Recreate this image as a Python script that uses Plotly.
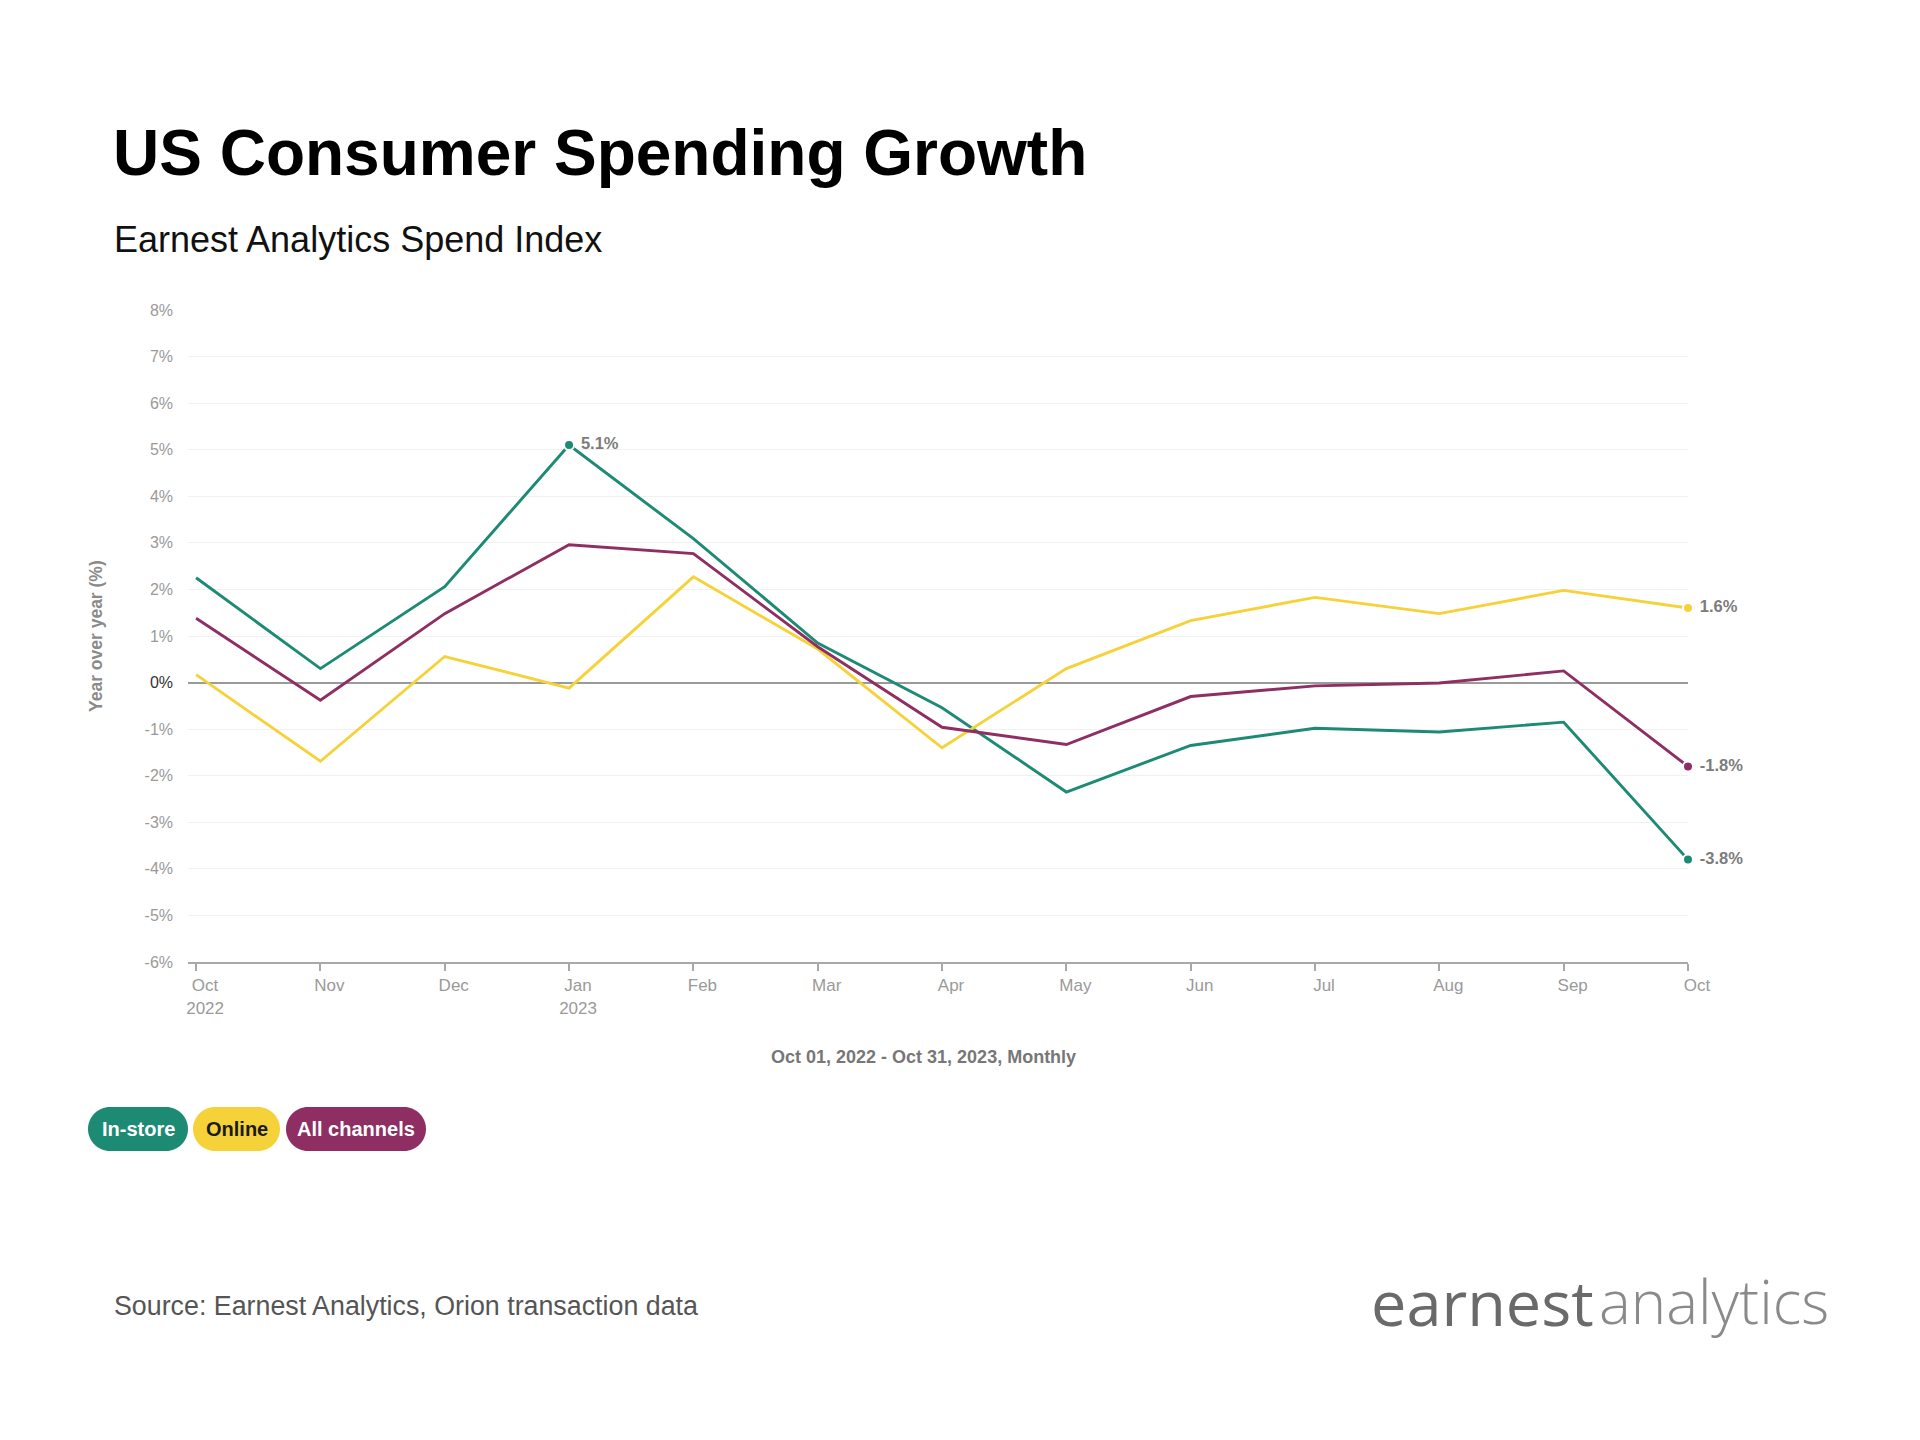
import plotly.graph_objects as go

# ---------------- data ----------------
months = ["2022-10", "2022-11", "2022-12", "2023-01", "2023-02", "2023-03", "2023-04",
          "2023-05", "2023-06", "2023-07", "2023-08", "2023-09", "2023-10"]
month_labels = ["Oct<br>2022", "Nov", "Dec", "Jan<br>2023", "Feb", "Mar", "Apr",
                "May", "Jun", "Jul", "Aug", "Sep", "Oct"]
in_store = [2.25, 0.3, 2.06, 5.1, 3.09, 0.85, -0.54, -2.35, -1.35, -0.98, -1.06, -0.85, -3.8]
online = [0.17, -1.69, 0.56, -0.12, 2.27, 0.72, -1.4, 0.3, 1.33, 1.83, 1.48, 1.98, 1.6]
all_channels = [1.38, -0.38, 1.48, 2.96, 2.77, 0.77, -0.96, -1.33, -0.3, -0.07, -0.01, 0.25, -1.8]
series_names = ["In-store", "Online", "All channels"]
y_ticks = list(range(-6, 9))
y_tick_labels = [("<span style='color:#333'>%d%%</span>" % v) if v == 0 else ("%d%%" % v) for v in y_ticks]
# points that carry a value label: (series index, month index)
labelled_points = [(0, 3), (0, 12), (1, 12), (2, 12)]

# ---------------- style ----------------
W, H = 1920, 1440
ML, MR, MT, MB = 188, 232, 310, 478
colors = ["#1d8a74", "#f6d23a", "#8e2e62"]
pill_text_colors = ["#ffffff", "#1a1a1a", "#ffffff"]
FONT = "Liberation Sans, Arial, Helvetica, sans-serif"

PW = W - ML - MR
PH = H - MT - MB


def px_x(px):
    return (px - ML) / PW


def px_y(py):
    return (H - MB - py) / PH


fig = go.Figure()
series = [in_store, online, all_channels]
for name, vals, col in zip(series_names, series, colors):
    fig.add_trace(go.Scatter(x=months, y=vals, mode="lines", name=name,
                             line=dict(color=col, width=2.9), showlegend=False,
                             hoverinfo="x+y"))

for si, mi in labelled_points:
    v = series[si][mi]
    fig.add_trace(go.Scatter(
        x=[months[mi]], y=[v], mode="markers+text",
        marker=dict(color=colors[si], size=10, line=dict(color="white", width=2)),
        text=[" %.1f%%" % v], textposition="middle right",
        textfont=dict(family=FONT, size=16.5, color="#7c7c7c", weight="bold"),
        cliponaxis=False, showlegend=False))

fig.update_xaxes(
    type="category", range=[-0.065, 12], tickmode="array", tickvals=months, ticktext=month_labels,
    showgrid=False, showline=True, linecolor="#a8a8a8", linewidth=2,
    ticks="outside", ticklen=7, tickcolor="#a8a8a8", tickwidth=1.5,
    tickfont=dict(family=FONT, size=17, color="#9a9a9a"), ticklabelshift=9,
    zeroline=False)
fig.update_yaxes(
    range=[-6, 8], tickmode="array", tickvals=y_ticks, ticktext=y_tick_labels,
    showgrid=True, gridcolor="#f1f1f1", gridwidth=1,
    zeroline=True, zerolinecolor="#9a9a9a", zerolinewidth=1.5,
    tickfont=dict(family=FONT, size=16, color="#9a9a9a"), ticklabelstandoff=14,
    showline=False)

annotations = [
    dict(text="<b>US Consumer Spending Growth</b>", x=px_x(111), y=px_y(153), xanchor="left", yanchor="middle",
         font=dict(family=FONT, size=64, color="#000000")),
    dict(text="Earnest Analytics Spend Index", x=px_x(112), y=px_y(239), xanchor="left", yanchor="middle",
         font=dict(family=FONT, size=36, color="#111111")),
    dict(text="Year over year (%)", x=px_x(96), y=px_y(636), xanchor="center", yanchor="middle", textangle=-90,
         font=dict(family=FONT, size=17.5, color="#8a8a8a", weight="bold")),
    dict(text="Oct 01, 2022 - Oct 31, 2023, Monthly", x=px_x(923), y=px_y(1057), xanchor="center", yanchor="middle",
         font=dict(family=FONT, size=18, color="#777777", weight="bold")),
    dict(text="Source: Earnest Analytics, Orion transaction data", x=px_x(112), y=px_y(1306), xanchor="left",
         yanchor="middle", font=dict(family=FONT, size=26.8, color="#555555")),
    dict(text="earnest", x=px_x(1596), y=px_y(1301), xanchor="right", yanchor="middle",
         font=dict(family="Open Sans, Lato, sans-serif", size=63, color="#6a6a6a", weight=500)),
    dict(text="analytics", x=px_x(1597), y=px_y(1301), xanchor="left", yanchor="middle",
         font=dict(family="Open Sans, Lato, sans-serif", size=60, color="#8a8a8a", weight=300)),
]

# legend pills
pills = [(88, 188), (193, 280), (286, 426)]
py0, py1 = 1107, 1151
shapes = []
k = 0.5523


def P(x, y):
    return "%.5f,%.5f" % (px_x(x), px_y(y))


for (x0, x1), name, col, tcol in zip(pills, series_names, colors, pill_text_colors):
    r = (py1 - py0) / 2
    yc = (py0 + py1) / 2
    path = ("M " + P(x0 + r, py0) + " L " + P(x1 - r, py0) +
            " C " + P(x1 - r + k * r, py0) + " " + P(x1, yc - k * r) + " " + P(x1, yc) +
            " C " + P(x1, yc + k * r) + " " + P(x1 - r + k * r, py1) + " " + P(x1 - r, py1) +
            " L " + P(x0 + r, py1) +
            " C " + P(x0 + r - k * r, py1) + " " + P(x0, yc + k * r) + " " + P(x0, yc) +
            " C " + P(x0, yc - k * r) + " " + P(x0 + r - k * r, py0) + " " + P(x0 + r, py0) + " Z")
    shapes.append(dict(type="path", xref="paper", yref="paper", path=path, fillcolor=col,
                       line=dict(width=0), layer="above"))
    annotations.append(dict(text="<b>%s</b>" % name, x=px_x((x0 + x1) / 2), y=px_y(yc), xanchor="center",
                            yanchor="middle", font=dict(family=FONT, size=20, color=tcol)))

for a in annotations:
    a.update(xref="paper", yref="paper", showarrow=False)

fig.update_layout(
    width=W, height=H, margin=dict(l=ML, r=MR, t=MT, b=MB),
    paper_bgcolor="white", plot_bgcolor="white",
    annotations=annotations, shapes=shapes, showlegend=False,
    font=dict(family=FONT),
)

fig.write_html("out.html")
